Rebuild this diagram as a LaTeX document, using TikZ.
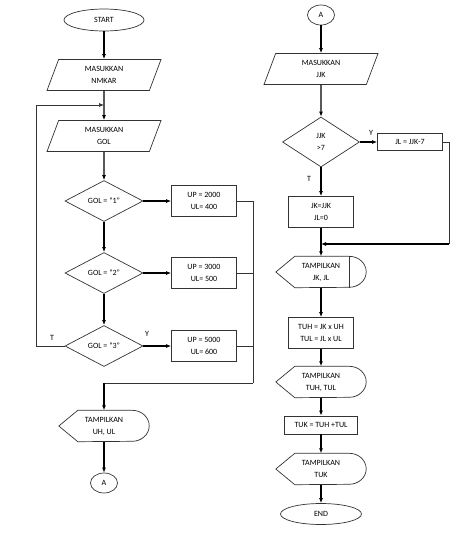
\documentclass[tikz,border=0pt]{standalone}
\usepackage{fontspec}
\setmainfont{Carlito}
\usetikzlibrary{positioning,shapes.geometric,arrows.meta}

\begin{document}
\begin{tikzpicture}[x=1pt,y=-1pt,font=\fontsize{8}{12}\selectfont]
    \tikzstyle{garis} = [draw=black!80, line width=0.7pt]
    \tikzstyle{panah} = [draw=black, line width=1.2pt, -{Latex[length=5pt,width=4pt]}]
    \tikzstyle{panahtipis} = [garis, -{Latex[length=5pt,width=4pt]}]
    \tikzstyle{ujung} = [ellipse, garis, minimum width=80pt, minimum height=22pt, inner sep=0pt]
    \tikzstyle{konektor} = [ellipse, garis, minimum width=27pt, minimum height=20pt, inner sep=0pt]
    \tikzstyle{masuk} = [trapezium, trapezium left angle=56, trapezium right angle=124,
    trapezium stretches body=true, garis, minimum width=114pt, minimum height=31pt,
    inner sep=0pt, align=center]
    \tikzstyle{proses} = [rectangle, garis, minimum width=65pt, minimum height=31pt, inner sep=0pt, align=center]
    \tikzstyle{cabang} = [diamond, garis, minimum width=78pt, minimum height=41pt, inner sep=0pt, align=center]
    \tikzstyle{tampil} = [rectangle, minimum width=90pt, minimum height=31pt, inner sep=0pt, align=center]
    \fill[white] (0,0) rectangle (474,558);
    \useasboundingbox (0,0) rectangle (474,558);
    % kolom kiri
    \node[ujung] (start) at (104,20) {START};
    \node[masuk] (nmkar) at (104,75) {MASUKKAN\\NMKAR};
    \node[masuk] (gol) at (104,136) {MASUKKAN\\GOL};
    \node[cabang] (gol1) at (104,201) {GOL = “1”};
    \node[cabang] (gol2) at (104,273) {GOL = “2”};
    \node[cabang] (gol3) at (104,346) {GOL = “3”};
    \node[proses] (up1) at (204,201) {UP = 2000\\UL= 400};
    \node[proses] (up2) at (204,273) {UP = 3000\\UL= 500};
    \node[proses] (up3) at (204,346) {UP = 5000\\UL= 600};
    \node[tampil] (tuhul) at (104,426) {TAMPILKAN\\UH, UL};
    \node[konektor] (a1) at (104,483) {A};
    \node (t1) at (52,338) {T};
    \node (y1) at (147,334) {Y};
    \coordinate (kiri) at (36,105); \coordinate (balik) at (104,105);
    \coordinate (kanan) at (253,383);
    % kolom kanan
    \node[konektor] (a2) at (321,15) {A};
    \node[masuk] (jjk) at (321,69) {MASUKKAN\\JJK};
    \node[cabang, minimum width=77pt, minimum height=50pt] (cjk) at (321,142) {JJK\\>7};
    \node[proses, minimum height=17pt] (jl7) at (410,142) {JL = JJK-7};
    \node[proses] (jl0) at (321,212) {JK=JJK\\JL=0};
    \node[tampil] (tjkjl) at (321,272) {TAMPILKAN\\JK, JL};
    \node[proses] (tuh) at (321,333) {TUH = JK x UH\\TUL = JL x UL};
    \node[tampil] (ttuh) at (321,382) {TAMPILKAN\\TUH, TUL};
    \node[proses, minimum width=73pt, minimum height=18pt] (tuk) at (321,425) {TUK = TUH +TUL};
    \node[tampil] (ttuk) at (321,469) {TAMPILKAN\\TUK};
    \node[ujung, minimum width=81pt, minimum height=21pt] (selesai) at (321,514) {END};
    \node (y2) at (371,133) {Y};
    \node (t2) at (309,179) {T};
    \coordinate (kanan2) at (449,244); \coordinate (gabung) at (321,244);
    % bentuk tampilan
    \foreach \n in {tuhul,tjkjl,ttuh,ttuk}
    \draw[garis] (\n.west) -- ([xshift=19pt]\n.north west) -- ([xshift=-17pt]\n.north east)
    arc[start angle=90,end angle=-90,x radius=17pt,y radius=15.5pt]
    -- ([xshift=19pt]\n.south west) -- cycle;
    \draw[garis] ([xshift=-17pt]tjkjl.north east) -- ([xshift=-17pt]tjkjl.south east);
    % panah kiri
    \draw[panah] (start) -- (nmkar);
    \draw[panah] (nmkar) -- (gol);
    \draw[panah] (gol) -- (gol1);
    \draw[panah] (gol1) -- (gol2);
    \draw[panah] (gol2) -- (gol3);
    \draw[panah] (gol1) -- (up1);
    \draw[panah] (gol2) -- (up2);
    \draw[panah] (gol3) -- (up3);
    \draw[panahtipis] (gol3) -| (kiri) -- (balik);
    \draw[garis] (up1) -| (kanan);
    \draw[garis] (up2) -- (up2 -| kanan);
    \draw[garis] (up3) -- (up3 -| kanan);
    \draw[garis] (kanan) -- (kanan -| tuhul);
    \draw[panah] (kanan -| tuhul) -- (tuhul);
    \draw[panah] (tuhul) -- (a1);
    % panah kanan
    \draw[panah] (a2) -- (jjk);
    \draw[panah] (jjk) -- (cjk);
    \draw[panah] (cjk) -- (jl7);
    \draw[panah] (cjk) -- (jl0);
    \draw[garis] (jl7) -| (kanan2);
    \draw[panah] (kanan2) -- (gabung);
    \draw[panah] (jl0) -- (tjkjl);
    \draw[panah] (tjkjl) -- (tuh);
    \draw[panah] (tuh) -- (ttuh);
    \draw[panah] (ttuh) -- (tuk);
    \draw[panah] (tuk) -- (ttuk);
    \draw[panah] (ttuk) -- (selesai);
\end{tikzpicture}
\end{document}
